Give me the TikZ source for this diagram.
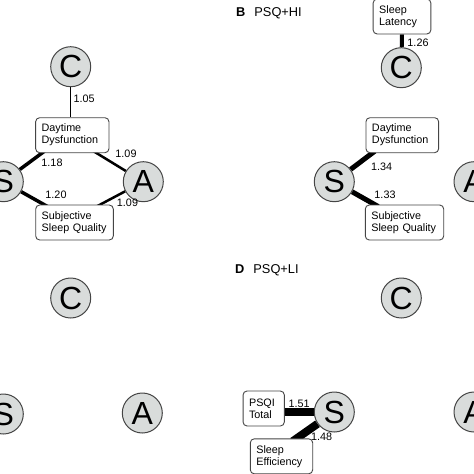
\documentclass[tikz,border=0pt]{standalone}
\usepackage{fontspec}
\setmainfont{Liberation Sans}
\usepackage{tikz}
\usetikzlibrary{positioning,backgrounds}
\definecolor{factorgray}{HTML}{D9DCDB}
\definecolor{rimgray}{HTML}{454545}
\tikzset{
  factor/.style={circle, draw=rimgray, line width=1pt, fill=factorgray,
    minimum size=40pt, inner sep=0pt, font=\fontsize{32}{32}\selectfont},
  item/.style={draw=rimgray, line width=0.9pt, fill=white, rounded corners=4pt,
    align=left, inner xsep=6pt, inner ysep=0pt, minimum height=35pt,
    font=\fontsize{10.8}{12}\selectfont},
  weight/.style={inner sep=0pt, font=\fontsize{10.8}{12}\selectfont},
  paneltitle/.style={anchor=base west, inner sep=0pt, font=\fontsize{12.8}{14}\selectfont},
}

\begin{document}
\begin{tikzpicture}[x=1pt, y=-1pt]
\useasboundingbox (0,0) rectangle (474,474);

% panel A
\node[factor] (c_a) at (70.7,66.7) {C};
\node[factor] (s_a) at (3.3,181.7) {S};
\node[factor] (a_a) at (143.3,181.7) {A};
\node[item, text width=61.3pt] (dd_a) at (72.3,135.2) {Daytime\\Dysfunction};
\node[item, text width=65.6pt] (sq_a) at (74.5,222.5) {Subjective\\Sleep Quality};
\begin{scope}[on background layer]
\draw[line width=1.1pt] (c_a) -- (c_a |- dd_a.north);
\draw[line width=3.5pt] (s_a) -- ([xshift=9.3pt,yshift=2pt]dd_a.south west);
\draw[line width=2.5pt] ([xshift=-16pt,yshift=2pt]dd_a.south east) -- (a_a);
\draw[line width=3.5pt] (s_a) -- ([xshift=12.3pt,yshift=-2pt]sq_a.north west);
\draw[line width=2.5pt] ([xshift=-17.3pt,yshift=-2pt]sq_a.north east) -- (a_a);
\end{scope}
\node[weight, anchor=west] (w_ca) at (73.3,99) {1.05};
\node[weight] (w_sd) at (52,163) {1.18};
\node[weight] (w_da) at (126,154) {1.09};
\node[weight] (w_ss) at (56,195) {1.20};
\node[weight] (w_sa) at (127.5,203) {1.09};

% panel B
\node[paneltitle] (title_b) at (236,16.7) {\textbf{B}\hspace{9pt}PSQ+HI};
\node[factor] (c_b) at (401.3,67.7) {C};
\node[factor] (s_b) at (334.3,181.7) {S};
\node[factor] (a_b) at (474,181.7) {A};
\node[item, text width=45.7pt] (sl_b) at (402,16.5) {Sleep\\Latency};
\node[item, text width=60.7pt] (dd_b) at (402.3,135.2) {Daytime\\Dysfunction};
\node[item, text width=66.4pt] (sq_b) at (404.5,222.5) {Subjective\\Sleep Quality};
\begin{scope}[on background layer]
\draw[line width=4pt] (sl_b.south) -- (c_b);
\draw[line width=5pt] (s_b) -- ([xshift=9.3pt,yshift=2pt]dd_b.south west);
\draw[line width=5pt] (s_b) -- ([xshift=13.4pt,yshift=-2pt]sq_b.north west);
\end{scope}
\node[weight] (w_lc) at (418,43) {1.26};
\node[weight] (w_sd_b) at (381.7,167) {1.34};
\node[weight] (w_ss_b) at (385,194.7) {1.33};

% panel C
\node[factor] (c_c) at (70.7,298) {C};
\node[factor] (s_c) at (3.3,414) {S};
\node[factor] (a_c) at (142.3,413) {A};

% panel D
\node[paneltitle] (title_d) at (235,273) {\textbf{D}\hspace{9pt}PSQ+LI};
\node[factor] (c_d) at (401.3,298) {C};
\node[factor] (s_d) at (334.3,412) {S};
\node[factor] (a_d) at (474,412) {A};
\node[item, text width=29.3pt] (pt_d) at (263.7,408.5) {PSQI\\Total};
\node[item, text width=50.4pt] (se_d) at (281.5,456.3) {Sleep\\Efficiency};
\begin{scope}[on background layer]
\draw[line width=8pt] ([xshift=-3pt]pt_d.east |- s_d) -- (s_d);
\draw[line width=8pt] ([xshift=42.7pt,yshift=-3pt]se_d.north west) -- (s_d);
\end{scope}
\node[weight] (w_ts) at (299.2,403.8) {1.51};
\node[weight] (w_es) at (321.7,437) {1.48};
\end{tikzpicture}
\end{document}
